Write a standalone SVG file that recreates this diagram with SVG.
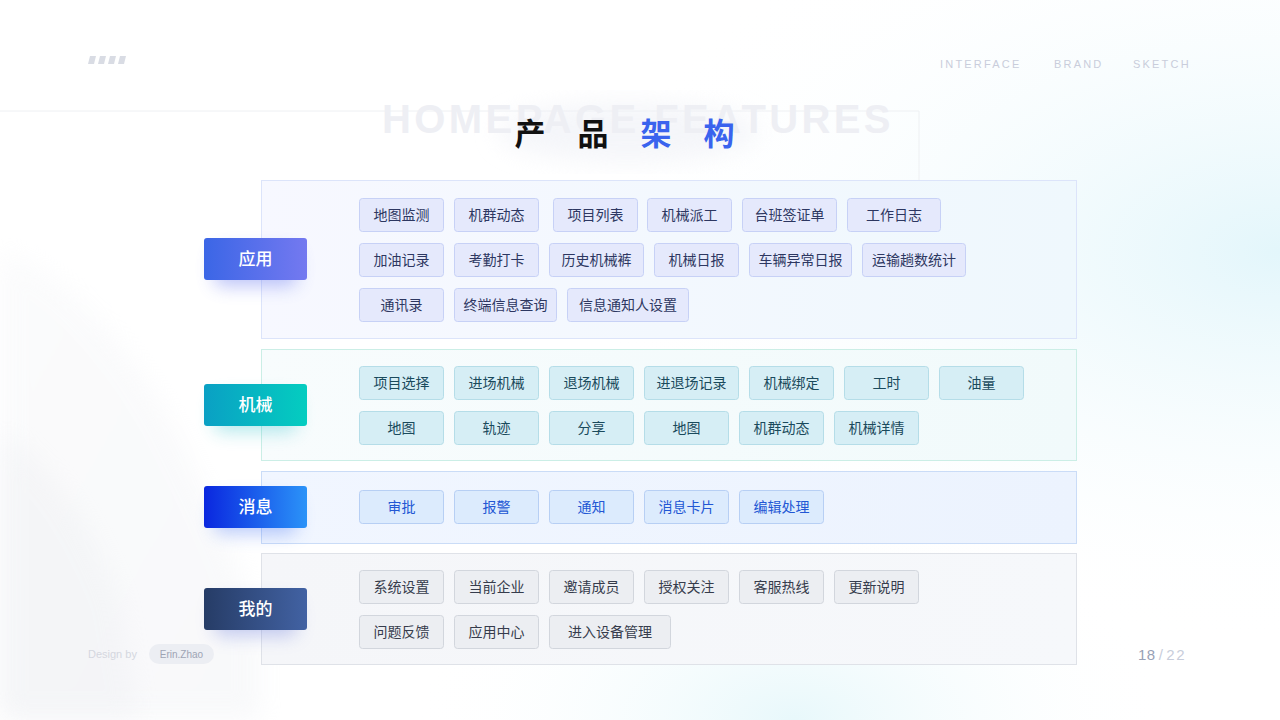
<svg xmlns="http://www.w3.org/2000/svg" width="1280" height="720" viewBox="0 0 1280 720">
<defs>
  <style>
    .cn{font-family:"Noto Sans CJK SC","Noto Sans",sans-serif;}
    .chip text{font-family:"Noto Sans CJK SC","Noto Sans",sans-serif;font-size:14px;text-anchor:middle;}
    .a rect{fill:#e5e9fc;stroke:#c7d1f6;stroke-width:1;}
    .a text{fill:#2d3761;}
    .m rect{fill:#d6eef5;stroke:#b5dde8;stroke-width:1;}
    .m text{fill:#1a4a5c;}
    .x rect{fill:#dcebfd;stroke:#b7cff4;stroke-width:1;}
    .x text{fill:#2257d4;}
    .w rect{fill:#eceef2;stroke:#d2d6dd;stroke-width:1;}
    .w text{fill:#363c4c;}
    .lbl text{font-family:"Noto Sans CJK SC","Noto Sans",sans-serif;font-size:17px;font-weight:500;fill:#ffffff;text-anchor:middle;}
    .nav{font-family:"Liberation Sans",Arial,sans-serif;font-size:11px;letter-spacing:2.2px;fill:#c9cddb;}
  </style>
  <linearGradient id="gA" x1="0" y1="0" x2="1" y2="0"><stop offset="0" stop-color="#3b66e6"/><stop offset="1" stop-color="#7479f0"/></linearGradient>
  <linearGradient id="gM" x1="0" y1="0" x2="1" y2="0"><stop offset="0" stop-color="#0aa0c4"/><stop offset="1" stop-color="#04cdc0"/></linearGradient>
  <linearGradient id="gX" x1="0" y1="0" x2="1" y2="0"><stop offset="0" stop-color="#0a27df"/><stop offset="1" stop-color="#2b93f8"/></linearGradient>
  <linearGradient id="gW" x1="0" y1="0" x2="1" y2="0"><stop offset="0" stop-color="#263c66"/><stop offset="1" stop-color="#4262a3"/></linearGradient>
  <linearGradient id="pA" x1="0" y1="0" x2="1" y2="0"><stop offset="0" stop-color="#f7f8ff"/><stop offset="1" stop-color="#eff8fd"/></linearGradient>
  <linearGradient id="pM" x1="0" y1="0" x2="1" y2="0"><stop offset="0" stop-color="#f8fcfd"/><stop offset="1" stop-color="#f1fafb"/></linearGradient>
  <linearGradient id="pX" x1="0" y1="0" x2="1" y2="0"><stop offset="0" stop-color="#f1f6ff"/><stop offset="1" stop-color="#ecf3fe"/></linearGradient>
  <linearGradient id="pW" x1="0" y1="0" x2="1" y2="0"><stop offset="0" stop-color="#f5f6f9"/><stop offset="1" stop-color="#f6f8fb"/></linearGradient>
  <radialGradient id="glowR" cx="1" cy="0.35" r="0.55"><stop offset="0" stop-color="#e3f6fb"/><stop offset="1" stop-color="#ffffff" stop-opacity="0"/></radialGradient>
  <radialGradient id="glowB" cx="0.62" cy="1" r="0.3"><stop offset="0" stop-color="#e8f8fb"/><stop offset="1" stop-color="#ffffff" stop-opacity="0"/></radialGradient>
  <linearGradient id="snow" x1="0" y1="0" x2="1" y2="1"><stop offset="0" stop-color="#f4f5f8"/><stop offset="1" stop-color="#eceef2"/></linearGradient>
  <filter id="sh" x="-60%" y="-80%" width="220%" height="300%"><feGaussianBlur stdDeviation="9"/></filter>
  <filter id="soft" x="-20%" y="-20%" width="140%" height="140%"><feGaussianBlur stdDeviation="12"/></filter>
</defs>

<rect width="1280" height="720" fill="#ffffff"/>
<rect width="1280" height="720" fill="url(#glowR)"/>
<rect width="1280" height="720" fill="url(#glowB)"/>
<path d="M0 250 C60 270 120 330 170 420 C210 500 240 560 260 640 L260 720 L0 720 Z" fill="url(#snow)" opacity="0.35" filter="url(#soft)"/>
<path d="M0 430 C50 460 90 520 120 600 L140 720 L0 720 Z" fill="#e9ebef" opacity="0.3" filter="url(#soft)"/>

<!-- faint frame -->
<g id="frame" fill="none" stroke="#eef0f3" stroke-width="1">
  <line x1="0" y1="111" x2="919" y2="111"/>
  <line x1="919" y1="111" x2="919" y2="180"/>
</g>

<!-- header -->
<g id="logo" fill="#d9dce4">
  <polygon points="90,56 96,56 94,64 88,64"/>
  <polygon points="100,56 106,56 104,64 98,64"/>
  <polygon points="110,56 116,56 114,64 108,64"/>
  <polygon points="120,56 126,56 124,64 118,64"/>
</g>
<g id="nav">
  <text class="nav" x="940" y="68">INTERFACE</text>
  <text class="nav" x="1054" y="68">BRAND</text>
  <text class="nav" x="1133" y="68">SKETCH</text>
</g>

<g id="title">
  <ellipse cx="628" cy="132" rx="130" ry="30" fill="#eef0f6" opacity="0.6" filter="url(#soft)"/>
  <text x="638" y="133" text-anchor="middle" font-family="'Liberation Sans',Arial,sans-serif" font-weight="700" font-size="40" letter-spacing="3.4" fill="#eeeff4">HOMEPAGE FEATURES</text>
  <g class="cn" font-size="31" font-weight="700">
    <text x="530" y="145" text-anchor="middle" fill="#111111">产</text>
    <text x="593" y="145" text-anchor="middle" fill="#111111">品</text>
    <text x="656" y="145" text-anchor="middle" fill="#3a63ee">架</text>
    <text x="719" y="145" text-anchor="middle" fill="#3a63ee">构</text>
  </g>
</g>

<!-- panels -->
<g id="panels">
  <rect x="261.5" y="180.5" width="815" height="158" fill="url(#pA)" stroke="#dce4fa"/>
  <rect x="261.5" y="349.5" width="815" height="111" fill="url(#pM)" stroke="#cbeee6"/>
  <rect x="261.5" y="471.5" width="815" height="72" fill="url(#pX)" stroke="#cadcf7"/>
  <rect x="261.5" y="553.5" width="815" height="111" fill="url(#pW)" stroke="#dfe2e8"/>
</g>

<!-- category labels -->
<g id="label-yingyong" class="lbl">
  <rect x="214" y="250" width="83" height="36" rx="8" fill="#6a7af0" opacity="0.45" filter="url(#sh)"/>
  <rect x="204" y="238" width="103" height="42" rx="3" fill="url(#gA)"/>
  <text x="255.5" y="265">应用</text>
</g>
<g id="label-jixie" class="lbl">
  <rect x="214" y="396" width="83" height="36" rx="8" fill="#2bc0c9" opacity="0.35" filter="url(#sh)"/>
  <rect x="204" y="384" width="103" height="42" rx="3" fill="url(#gM)"/>
  <text x="255.5" y="411">机械</text>
</g>
<g id="label-xiaoxi" class="lbl">
  <rect x="214" y="498" width="83" height="36" rx="8" fill="#3a6cf2" opacity="0.35" filter="url(#sh)"/>
  <rect x="204" y="486" width="103" height="42" rx="3" fill="url(#gX)"/>
  <text x="255.5" y="513">消息</text>
</g>
<g id="label-wode" class="lbl">
  <rect x="214" y="600" width="83" height="36" rx="8" fill="#5d6fd8" opacity="0.35" filter="url(#sh)"/>
  <rect x="204" y="588" width="103" height="42" rx="3" fill="url(#gW)"/>
  <text x="255.5" y="615">我的</text>
</g>

<!-- 应用 chips -->
<g id="chips-yingyong" class="chip a">
  <g id="a1"><rect x="359.5" y="198.5" width="84" height="33" rx="3"/><text x="401.5" y="220">地图监测</text></g>
  <g id="a2"><rect x="454.5" y="198.5" width="84" height="33" rx="3"/><text x="496.5" y="220">机群动态</text></g>
  <g id="a3"><rect x="553.5" y="198.5" width="84" height="33" rx="3"/><text x="595.5" y="220">项目列表</text></g>
  <g id="a4"><rect x="647.5" y="198.5" width="84" height="33" rx="3"/><text x="689.5" y="220">机械派工</text></g>
  <g id="a5"><rect x="742.5" y="198.5" width="94" height="33" rx="3"/><text x="789.5" y="220">台班签证单</text></g>
  <g id="a6"><rect x="847.5" y="198.5" width="93" height="33" rx="3"/><text x="894" y="220">工作日志</text></g>
  <g id="a7"><rect x="359.5" y="243.5" width="84" height="33" rx="3"/><text x="401.5" y="265">加油记录</text></g>
  <g id="a8"><rect x="454.5" y="243.5" width="84" height="33" rx="3"/><text x="496.5" y="265">考勤打卡</text></g>
  <g id="a9"><rect x="549.5" y="243.5" width="94" height="33" rx="3"/><text x="596.5" y="265">历史机械裤</text></g>
  <g id="a10"><rect x="654.5" y="243.5" width="84" height="33" rx="3"/><text x="696.5" y="265">机械日报</text></g>
  <g id="a11"><rect x="749.5" y="243.5" width="102" height="33" rx="3"/><text x="800.5" y="265">车辆异常日报</text></g>
  <g id="a12"><rect x="862.5" y="243.5" width="103" height="33" rx="3"/><text x="914" y="265">运输趟数统计</text></g>
  <g id="a13"><rect x="359.5" y="288.5" width="84" height="33" rx="3"/><text x="401.5" y="310">通讯录</text></g>
  <g id="a14"><rect x="454.5" y="288.5" width="102" height="33" rx="3"/><text x="505.5" y="310">终端信息查询</text></g>
  <g id="a15"><rect x="567.5" y="288.5" width="121" height="33" rx="3"/><text x="628" y="310">信息通知人设置</text></g>
</g>

<!-- 机械 chips -->
<g id="chips-jixie" class="chip m">
  <g id="m1"><rect x="359.5" y="366.5" width="84" height="33" rx="3"/><text x="401.5" y="388">项目选择</text></g>
  <g id="m2"><rect x="454.5" y="366.5" width="84" height="33" rx="3"/><text x="496.5" y="388">进场机械</text></g>
  <g id="m3"><rect x="549.5" y="366.5" width="84" height="33" rx="3"/><text x="591.5" y="388">退场机械</text></g>
  <g id="m4"><rect x="644.5" y="366.5" width="94" height="33" rx="3"/><text x="691.5" y="388">进退场记录</text></g>
  <g id="m5"><rect x="749.5" y="366.5" width="84" height="33" rx="3"/><text x="791.5" y="388">机械绑定</text></g>
  <g id="m6"><rect x="844.5" y="366.5" width="84" height="33" rx="3"/><text x="886.5" y="388">工时</text></g>
  <g id="m7"><rect x="939.5" y="366.5" width="84" height="33" rx="3"/><text x="981.5" y="388">油量</text></g>
  <g id="m8"><rect x="359.5" y="411.5" width="84" height="33" rx="3"/><text x="401.5" y="433">地图</text></g>
  <g id="m9"><rect x="454.5" y="411.5" width="84" height="33" rx="3"/><text x="496.5" y="433">轨迹</text></g>
  <g id="m10"><rect x="549.5" y="411.5" width="84" height="33" rx="3"/><text x="591.5" y="433">分享</text></g>
  <g id="m11"><rect x="644.5" y="411.5" width="84" height="33" rx="3"/><text x="686.5" y="433">地图</text></g>
  <g id="m12"><rect x="739.5" y="411.5" width="84" height="33" rx="3"/><text x="781.5" y="433">机群动态</text></g>
  <g id="m13"><rect x="834.5" y="411.5" width="84" height="33" rx="3"/><text x="876.5" y="433">机械详情</text></g>
</g>

<!-- 消息 chips -->
<g id="chips-xiaoxi" class="chip x">
  <g id="x1"><rect x="359.5" y="490.5" width="84" height="33" rx="3"/><text x="401.5" y="512">审批</text></g>
  <g id="x2"><rect x="454.5" y="490.5" width="84" height="33" rx="3"/><text x="496.5" y="512">报警</text></g>
  <g id="x3"><rect x="549.5" y="490.5" width="84" height="33" rx="3"/><text x="591.5" y="512">通知</text></g>
  <g id="x4"><rect x="644.5" y="490.5" width="84" height="33" rx="3"/><text x="686.5" y="512">消息卡片</text></g>
  <g id="x5"><rect x="739.5" y="490.5" width="84" height="33" rx="3"/><text x="781.5" y="512">编辑处理</text></g>
</g>

<!-- 我的 chips -->
<g id="chips-wode" class="chip w">
  <g id="w1"><rect x="359.5" y="570.5" width="84" height="33" rx="3"/><text x="401.5" y="592">系统设置</text></g>
  <g id="w2"><rect x="454.5" y="570.5" width="84" height="33" rx="3"/><text x="496.5" y="592">当前企业</text></g>
  <g id="w3"><rect x="549.5" y="570.5" width="84" height="33" rx="3"/><text x="591.5" y="592">邀请成员</text></g>
  <g id="w4"><rect x="644.5" y="570.5" width="84" height="33" rx="3"/><text x="686.5" y="592">授权关注</text></g>
  <g id="w5"><rect x="739.5" y="570.5" width="84" height="33" rx="3"/><text x="781.5" y="592">客服热线</text></g>
  <g id="w6"><rect x="834.5" y="570.5" width="84" height="33" rx="3"/><text x="876.5" y="592">更新说明</text></g>
  <g id="w7"><rect x="359.5" y="615.5" width="84" height="33" rx="3"/><text x="401.5" y="637">问题反馈</text></g>
  <g id="w8"><rect x="454.5" y="615.5" width="84" height="33" rx="3"/><text x="496.5" y="637">应用中心</text></g>
  <g id="w9"><rect x="549.5" y="615.5" width="121" height="33" rx="3"/><text x="610" y="637">进入设备管理</text></g>
</g>

<g id="connectors"></g>

<!-- footer -->
<g id="footer" font-family="'Liberation Sans',Arial,sans-serif">
  <text x="88" y="658" font-size="11" fill="#d4d7df">Design by</text>
  <rect x="149" y="644" width="65" height="20" rx="10" fill="#eceef3"/>
  <text x="181.5" y="658" font-size="10" fill="#9ea4b4" text-anchor="middle">Erin.Zhao</text>
  <text x="1138" y="660" font-size="15" fill="#98a1b6" letter-spacing="0.5">18<tspan fill="#c8cddb" dx="3">/</tspan><tspan fill="#c8cddb" dx="3" letter-spacing="1.5">22</tspan></text>
</g>
</svg>
